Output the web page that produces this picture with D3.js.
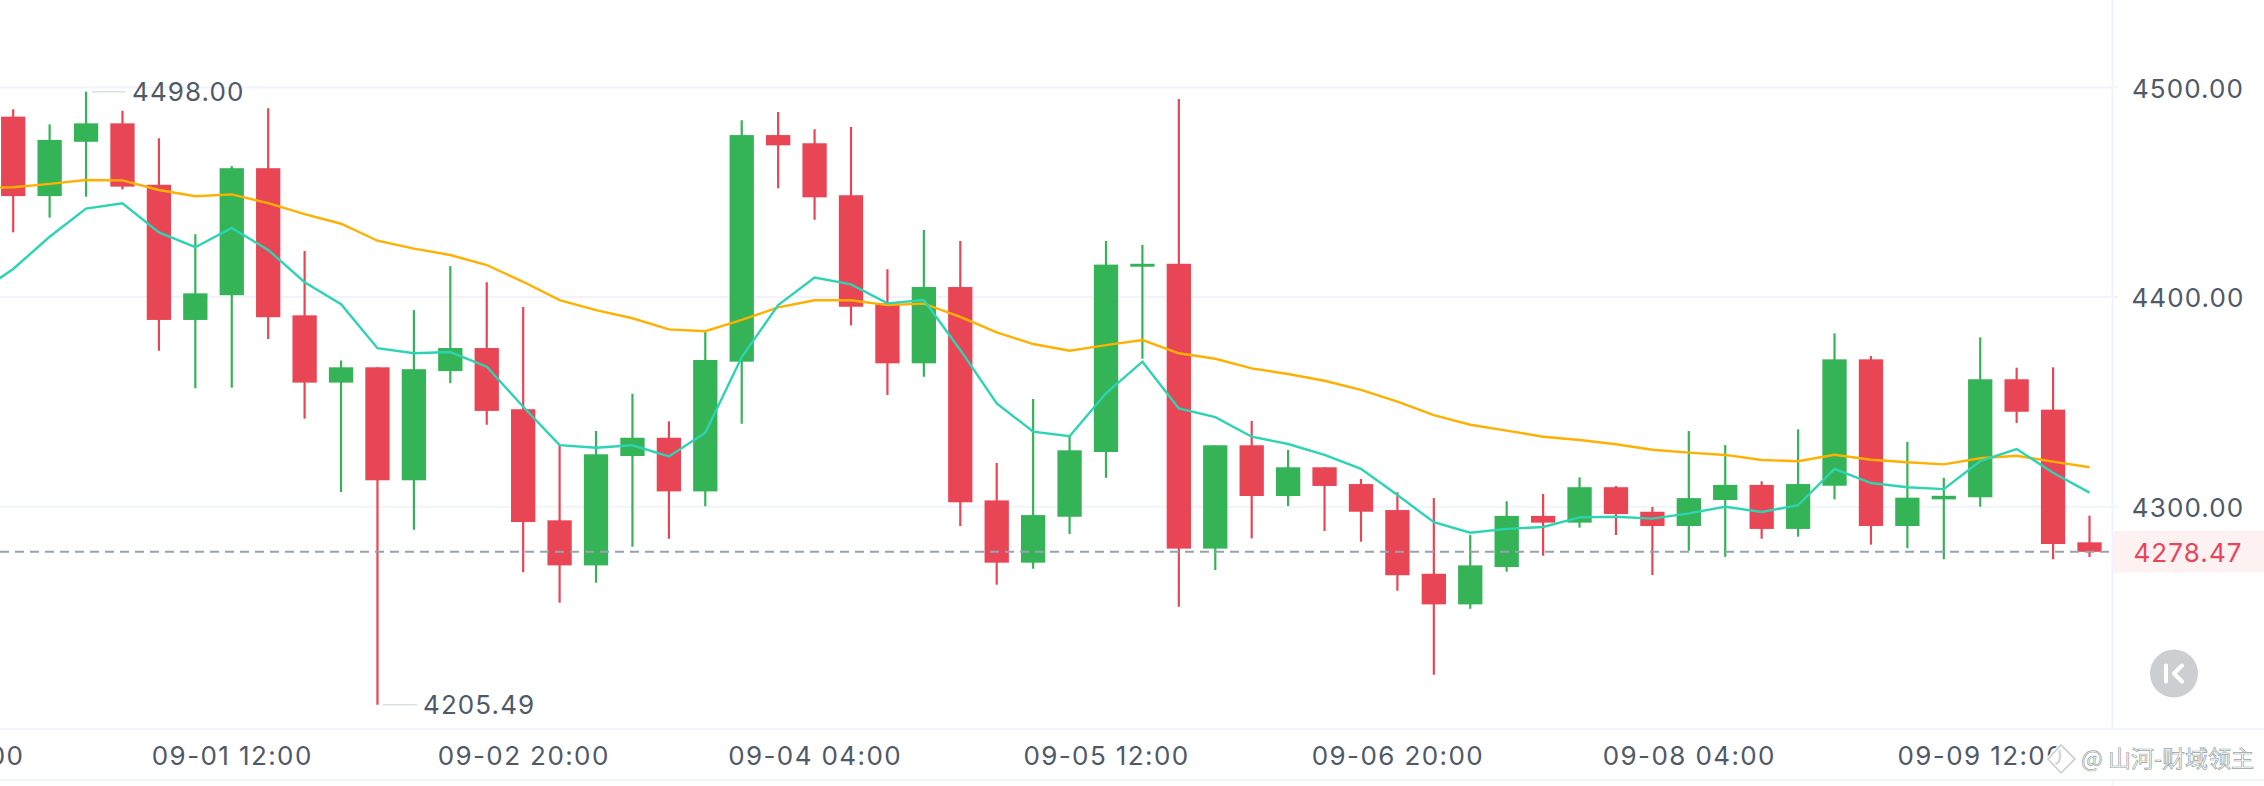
<!DOCTYPE html>
<html><head><meta charset="utf-8">
<script src="https://cdn.jsdelivr.net/npm/d3@7"></script>
<style>html,body{margin:0;padding:0;background:#fff;overflow:hidden}svg{display:block}.t{letter-spacing:1.1px}</style>
</head><body><svg id="c" width="2264" height="786"></svg>
<script>
// index 0..57, one candle every 4 hours
const opens  = [4486.1,4448.2,4474.1,4482.9,4453.6,4389.1,4400.9,4461.5,4391.3,4359.2,4366.5,4312.6,4364.7,4375.7,4346.5,4293.5,4272,4324.2,4332.9,4307.3,4369.2,4477.3,4473.4,4448.6,4397,4368.4,4404.8,4303,4273.3,4295.2,4326.1,4414.5,4415.9,4280,4329.3,4305.1,4318.8,4310.8,4298.4,4268,4253.4,4271.2,4295.6,4292.4,4309.3,4297.6,4290.8,4303.2,4310.4,4289.4,4310,4370.3,4290.8,4303.5,4304.5,4360.8,4346.3,4283];
const closes = [4448.2,4475,4482.9,4452.7,4389.1,4401.8,4461.5,4390.4,4359.2,4366.5,4312.6,4365.6,4375.7,4345.7,4292.7,4272,4325,4332.9,4307.3,4370,4477.3,4472.4,4447.6,4395.4,4368.4,4404.8,4302.1,4273.3,4296,4326.9,4415.5,4415.9,4280,4329.3,4305.1,4318.8,4309.9,4297.6,4267.3,4253.4,4272,4295.6,4292.4,4309.3,4296.5,4290.8,4304.1,4310.4,4289.4,4310.8,4370.3,4290.8,4304.3,4305.2,4360.8,4345.3,4282.2,4278.47];
const highs  = [4489.6,4482.4,4498,4488.9,4475.8,4430,4462.5,4490.1,4422,4369.8,4366.5,4393.8,4414.8,4407.1,4395.3,4329.4,4336.1,4353.9,4340.7,4383.5,4484.4,4488.3,4480.1,4481.2,4413.3,4432,4426.8,4320.9,4351.4,4333.7,4426.8,4424.9,4494.5,4329.3,4340.9,4327.1,4318.8,4313.2,4306.9,4304.1,4286.5,4302.6,4306.1,4314,4309.9,4299.9,4336.1,4329.4,4312.1,4336.9,4382.7,4371.9,4330.9,4313.8,4380.8,4366.3,4366.5,4295.7];
const lows   = [4430.9,4437.9,4447.9,4451.4,4374.4,4356.5,4356.8,4380,4342,4307,4205.49,4289,4358.9,4339.1,4268.7,4254.2,4263.7,4280.9,4284.7,4300.2,4339.6,4451.9,4436.9,4386.5,4353.3,4362,4290.8,4262.8,4270.4,4287,4313.8,4370.6,4252.3,4269.8,4284.9,4300.3,4288.4,4283.3,4259.9,4219.8,4251.3,4269,4276.6,4290,4286.5,4267.4,4279,4276.1,4284.7,4285.7,4303.5,4281.9,4280.2,4274.9,4300,4339.9,4274.9,4276];
// moving averages, starting one candle earlier (index -1, just off the left edge)
const maFast = [4401.5,4413.4,4428.8,4442.2,4444.8,4430.9,4423.8,4433,4422.5,4407.1,4396.6,4375.6,4373.2,4373.8,4366.8,4347.7,4329.4,4328.1,4329.3,4324,4335.3,4371.4,4396.2,4409.3,4406.1,4397,4398.6,4374.8,4349.3,4335.8,4333.6,4354.1,4369.2,4346.9,4342.7,4333.4,4329.9,4324.7,4318.1,4305.6,4292.6,4287.6,4289.4,4290.3,4294.9,4295.2,4294.3,4296.8,4300,4297.5,4300.7,4318,4311.3,4309.3,4308.4,4321.8,4327.5,4316.2,4306.7];
const maSlow = [4452.1,4452.4,4454,4455.9,4455.7,4451.1,4448.1,4449,4444.8,4439.6,4435,4426.9,4423.1,4420.1,4415.3,4407.3,4398.6,4393.8,4389.9,4384.6,4383.7,4389.1,4395.1,4398.5,4398.5,4396.2,4396.9,4390.6,4383.2,4377.6,4374.4,4377.1,4379.5,4373.2,4370.6,4366,4363.3,4360.1,4355.7,4350.1,4343.7,4339.1,4336.3,4333.4,4331.8,4329.8,4327.2,4325.8,4324.7,4322.3,4321.7,4324.8,4322.4,4321.2,4320.2,4323.1,4324.3,4321.5,4318.8];
const priceTicks = [4300,4400,4500];
const timeTickIndex = [-2,6,14,22,30,38,46,54];
const timeTickLabels = ["08-31 04:00","09-01 12:00","09-02 20:00","09-04 04:00","09-05 12:00","09-06 20:00","09-08 04:00","09-09 12:00"];
const lastPrice = 4278.47, maxPrice = 4498, minPrice = 4205.49;
const maxIndex = 2, minIndex = 10;

const W=2264,H=786,axisX=2112.5,plotBottom=729,footBottom=780;
const GREEN="#34b357",RED="#e84655",GRID="#f0f4fa",TEXT="#4f5967";
const FONT="Inter, Roboto, sans-serif",FS=26;
const svg=d3.select("#c");
const x=d3.scaleLinear().domain([0,57]).range([13.2,2089.5]);
const y=d3.scaleLinear().domain([4300,4500]).range([506.7,87.5]);
const bw=24.3;

// frame
svg.append("g").selectAll("line").data([plotBottom,footBottom]).join("line")
  .attr("x1",0).attr("x2",W).attr("y1",d=>d).attr("y2",d=>d).attr("stroke",GRID).attr("stroke-width",2);
svg.append("line").attr("x1",axisX).attr("x2",axisX).attr("y1",0).attr("y2",plotBottom).attr("stroke",GRID).attr("stroke-width",2);
svg.append("line").attr("x1",axisX).attr("x2",axisX).attr("y1",footBottom).attr("y2",H).attr("stroke",GRID).attr("stroke-width",2);

// price grid and axis
const yAxis=d3.axisRight(y).tickValues(priceTicks).tickFormat(d3.format(".2f")).tickSize(0).tickPadding(0);
const gy=svg.append("g").attr("transform","translate(2188,0)").call(yAxis);
gy.select(".domain").remove();
gy.selectAll("text").attr("class","t").attr("x",0).attr("dy",null).attr("dominant-baseline","central").attr("text-anchor","middle")
  .attr("fill",TEXT).style("font-family",FONT).style("font-size",FS+"px");
svg.insert("g","g").selectAll("line").data(priceTicks).join("line")
  .attr("x1",0).attr("x2",2118).attr("y1",d=>y(d)).attr("y2",d=>y(d)).attr("stroke",GRID).attr("stroke-width",2);

// time axis
const tickLabel=new Map(timeTickIndex.map((d,i)=>[d,timeTickLabels[i]]));
const xAxis=d3.axisBottom(x).tickValues(timeTickIndex).tickFormat(d=>tickLabel.get(d)).tickSize(0).tickPadding(0);
const gx=svg.append("g").attr("transform","translate(0,755.5)").call(xAxis);
gx.select(".domain").remove();
gx.selectAll("text").attr("class","t").attr("y",0).attr("dy",null).attr("dominant-baseline","central")
  .attr("fill",TEXT).style("font-family",FONT).style("font-size",FS+"px").style("letter-spacing","1.4px");

// candles
const rows=d3.range(opens.length).map(i=>({i,o:opens[i],c:closes[i],h:highs[i],l:lows[i]}));
const col=d=>d.c>=d.o?GREEN:RED;
const cg=svg.append("g");
cg.selectAll("line").data(rows).join("line")
  .attr("x1",d=>x(d.i)).attr("x2",d=>x(d.i)).attr("y1",d=>y(d.h)).attr("y2",d=>y(d.l))
  .attr("stroke",col).attr("stroke-width",2.2);
cg.selectAll("rect").data(rows).join("rect")
  .attr("x",d=>x(d.i)-bw/2).attr("width",bw)
  .attr("y",d=>y(Math.max(d.o,d.c))).attr("height",d=>Math.max(2.5,Math.abs(y(d.o)-y(d.c))))
  .attr("fill",col);

// moving averages
const ln=d3.line().x((d,i)=>x(i-1)).y(d=>y(d));
svg.append("path").attr("d",ln(maSlow)).attr("fill","none").attr("stroke","#ffb000").attr("stroke-width",2.4);
svg.append("path").attr("d",ln(maFast)).attr("fill","none").attr("stroke","#2dd4b4").attr("stroke-width",2.4);

// last price
svg.append("line").attr("x1",0).attr("x2",axisX-1).attr("y1",y(lastPrice)).attr("y2",y(lastPrice))
  .attr("stroke","#98a1ad").attr("stroke-width",2).attr("stroke-dasharray","9,6");
svg.append("rect").attr("x",axisX+1).attr("y",531).attr("width",W-axisX-1).attr("height",41.5).attr("fill","#fdf1f2");
svg.append("text").attr("class","t").attr("x",2188).attr("y",552).attr("text-anchor","middle").attr("dominant-baseline","central")
  .attr("fill","#e8445a").style("font-family",FONT).style("font-size",FS+"px").text(lastPrice.toFixed(2));

// extreme labels
const ext=[{v:maxPrice,x1:92,x2:125,tx:132},{v:minPrice,x1:383,x2:417,tx:423}];
svg.append("g").selectAll("line").data(ext).join("line")
  .attr("x1",d=>d.x1).attr("x2",d=>d.x2).attr("y1",d=>y(d.v)).attr("y2",d=>y(d.v))
  .attr("stroke","#d9dfe3").attr("stroke-width",1.5);
svg.append("g").selectAll("text").data(ext).join("text").attr("class","t")
  .attr("x",d=>d.tx).attr("y",d=>y(d.v)).attr("dominant-baseline","central").attr("fill",TEXT)
  .style("font-family",FONT).style("font-size",FS+"px").text(d=>d.v.toFixed(2));

// back-to-latest button
const b=svg.append("g").attr("transform","translate(2174,673.5)");
b.append("circle").attr("r",24).attr("fill","#cdced2");
b.append("path").attr("d","M-8,-8V8").attr("stroke","#fff").attr("stroke-width",4).attr("stroke-linecap","round");
b.append("path").attr("d","M8,-8L0,0L8,8").attr("fill","none").attr("stroke","#fff").attr("stroke-width",4).attr("stroke-linecap","round").attr("stroke-linejoin","round");

// watermark
const wm=svg.append("g");
const dia="M2061,745L2075,759L2061,773L2048,759Z";
wm.append("path").attr("d",dia).attr("fill","#fff").attr("fill-opacity",0.75).attr("stroke","#fff").attr("stroke-width",4);
wm.append("path").attr("d",dia).attr("fill","none").attr("stroke","#c8cccc").attr("stroke-width",1.5);
wm.append("text").attr("x",2081).attr("y",757).attr("dominant-baseline","central")
  .attr("fill","#fff").attr("stroke","#98a3a5").attr("stroke-width",0.7)
  .style("font-family","'Noto Sans CJK SC',sans-serif").style("font-size","23px").text("@ 山河-财域领主");
</script></body></html>
